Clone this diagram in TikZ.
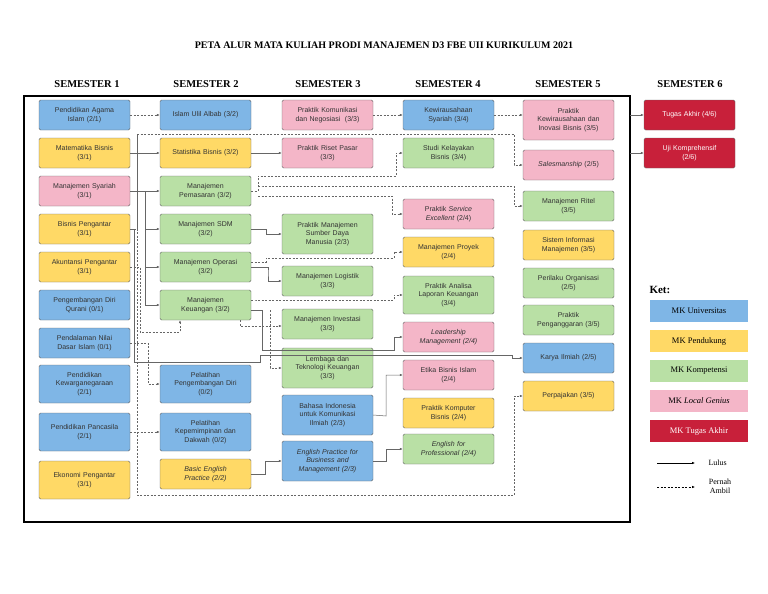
\documentclass[tikz,border=0pt]{standalone}
\usepackage{fontspec}
\setmainfont{Liberation Serif}
\newfontfamily\boxfont{Liberation Sans}
\usetikzlibrary{arrows.meta}
\definecolor{cb}{HTML}{7FB6E6}
\definecolor{cy}{HTML}{FFD966}
\definecolor{cg}{HTML}{B9E0A5}
\definecolor{cp}{HTML}{F4B6C8}
\definecolor{cr}{HTML}{C8203A}
\definecolor{ln}{HTML}{666666}
\tikzset{
 bx/.style={draw=ln,rounded corners=1.5pt,minimum width=91pt,text width=89pt,align=center,inner sep=1pt,font=\boxfont\fontsize{7}{8.6}\selectfont,text=black!80},
 sl/.style={draw=ln,line width=0.5pt,-{Latex[length=3pt,width=2.5pt]}},
 dsh/.style={sl,dashed,dash pattern=on 2pt off 1.5pt},
 dl/.style={draw=ln,line width=0.5pt,dashed,dash pattern=on 2pt off 1.5pt},
 hd/.style={font=\bfseries\fontsize{10.5}{12}\selectfont},
 lg/.style={minimum width=98pt,minimum height=22pt,inner sep=0pt,font=\fontsize{8.5}{10}\selectfont}
}
\begin{document}
\begin{tikzpicture}[x=1pt,y=-1pt]
\useasboundingbox (0,0) rectangle (768,594);
\node[font=\bfseries\fontsize{10}{12}\selectfont] (title) at (384,45) {PETA ALUR MATA KULIAH PRODI MANAJEMEN D3 FBE UII KURIKULUM 2021};
\node[hd] (h1) at (87,84) {SEMESTER 1};
\node[hd] (h2) at (206,84) {SEMESTER 2};
\node[hd] (h3) at (328,84) {SEMESTER 3};
\node[hd] (h4) at (448,84) {SEMESTER 4};
\node[hd] (h5) at (568,84) {SEMESTER 5};
\node[hd] (h6) at (690,84) {SEMESTER 6};
\draw[line width=1.4pt] (24,96) rectangle (630,522);
% column 1
\node[bx,fill=cb,minimum height=30pt] (a1) at (84.5,115) {Pendidikan Agama\\Islam (2/1)};
\node[bx,fill=cy,minimum height=30pt] (a2) at (84.5,153) {Matematika Bisnis\\(3/1)};
\node[bx,fill=cp,minimum height=30pt] (a3) at (84.5,191) {Manajemen Syariah\\(3/1)};
\node[bx,fill=cy,minimum height=30pt] (a4) at (84.5,229) {Bisnis Pengantar\\(3/1)};
\node[bx,fill=cy,minimum height=30pt] (a5) at (84.5,267) {Akuntansi Pengantar\\(3/1)};
\node[bx,fill=cb,minimum height=30pt] (a6) at (84.5,305) {Pengembangan Diri\\Qurani (0/1)};
\node[bx,fill=cb,minimum height=30pt] (a7) at (84.5,343) {Pendalaman Nilai\\Dasar Islam (0/1)};
\node[bx,fill=cb,minimum height=38pt] (a8) at (84.5,384) {Pendidikan\\Kewarganegaraan\\(2/1)};
\node[bx,fill=cb,minimum height=38pt] (a9) at (84.5,432) {Pendidikan Pancasila\\(2/1)};
\node[bx,fill=cy,minimum height=38pt] (a10) at (84.5,480) {Ekonomi Pengantar\\(3/1)};
% column 2
\node[bx,fill=cb,minimum height=30pt] (b1) at (205.5,115) {Islam Ulil Albab (3/2)};
\node[bx,fill=cy,minimum height=30pt] (b2) at (205.5,153) {Statistika Bisnis (3/2)};
\node[bx,fill=cg,minimum height=30pt] (b3) at (205.5,191) {Manajemen\\Pemasaran (3/2)};
\node[bx,fill=cg,minimum height=30pt] (b4) at (205.5,229) {Manajemen SDM\\(3/2)};
\node[bx,fill=cg,minimum height=30pt] (b5) at (205.5,267) {Manajemen Operasi\\(3/2)};
\node[bx,fill=cg,minimum height=30pt] (b6) at (205.5,305) {Manajemen\\Keuangan (3/2)};
\node[bx,fill=cb,minimum height=38pt] (b7) at (205.5,384) {Pelatihan\\Pengembangan Diri\\(0/2)};
\node[bx,fill=cb,minimum height=38pt] (b8) at (205.5,432) {Pelatihan\\Kepemimpinan dan\\Dakwah (0/2)};
\node[bx,fill=cy,minimum height=30pt] (b9) at (205.5,474) {\itshape Basic English\\Practice (2/2)};
% column 3
\node[bx,fill=cp,minimum height=30pt] (c1) at (327.5,115) {Praktik Komunikasi\\dan Negosiasi\ \ (3/3)};
\node[bx,fill=cp,minimum height=30pt] (c2) at (327.5,153) {Praktik Riset Pasar\\(3/3)};
\node[bx,fill=cg,minimum height=40pt] (c3) at (327.5,234) {Praktik Manajemen\\Sumber Daya\\Manusia (2/3)};
\node[bx,fill=cg,minimum height=30pt] (c4) at (327.5,281) {Manajemen Logistik\\(3/3)};
\node[bx,fill=cg,minimum height=30pt] (c5) at (327.5,324) {Manajemen Investasi\\(3/3)};
\node[bx,fill=cg,minimum height=40pt] (c6) at (327.5,368) {Lembaga dan\\Teknologi Keuangan\\(3/3)};
\node[bx,fill=cb,minimum height=40pt] (c7) at (327.5,415) {Bahasa Indonesia\\untuk Komunikasi\\Ilmiah (2/3)};
\node[bx,fill=cb,minimum height=40pt] (c8) at (327.5,461) {\itshape English Practice for\\Business and\\Management (2/3)};
% column 4
\node[bx,fill=cb,minimum height=30pt] (d1) at (448.5,115) {Kewirausahaan\\Syariah (3/4)};
\node[bx,fill=cg,minimum height=30pt] (d2) at (448.5,153) {Studi Kelayakan\\Bisnis (3/4)};
\node[bx,fill=cp,minimum height=30pt] (d3) at (448.5,214) {Praktik \textit{Service}\\\textit{Excellent} (2/4)};
\node[bx,fill=cy,minimum height=30pt] (d4) at (448.5,252) {Manajemen Proyek\\(2/4)};
\node[bx,fill=cg,minimum height=38pt] (d5) at (448.5,295) {Praktik Analisa\\Laporan Keuangan\\(3/4)};
\node[bx,fill=cp,minimum height=30pt] (d6) at (448.5,337) {\itshape Leadership\\Management (2/4)};
\node[bx,fill=cp,minimum height=30pt] (d7) at (448.5,375) {Etika Bisnis Islam\\(2/4)};
\node[bx,fill=cy,minimum height=30pt] (d8) at (448.5,413) {Praktik Komputer\\Bisnis (2/4)};
\node[bx,fill=cg,minimum height=30pt] (d9) at (448.5,449) {\itshape English for\\Professional (2/4)};
% column 5
\node[bx,fill=cp,minimum height=40pt] (e1) at (568.5,120) {Praktik\\Kewirausahaan dan\\Inovasi Bisnis (3/5)};
\node[bx,fill=cp,minimum height=30pt] (e2) at (568.5,165) {\textit{Salesmanship} (2/5)};
\node[bx,fill=cg,minimum height=30pt] (e3) at (568.5,206) {Manajemen Ritel\\(3/5)};
\node[bx,fill=cy,minimum height=30pt] (e4) at (568.5,245) {Sistem Informasi\\Manajemen (3/5)};
\node[bx,fill=cg,minimum height=30pt] (e5) at (568.5,283) {Perilaku Organisasi\\(2/5)};
\node[bx,fill=cg,minimum height=30pt] (e6) at (568.5,320) {Praktik\\Penganggaran (3/5)};
\node[bx,fill=cb,minimum height=30pt] (e7) at (568.5,358) {Karya Ilmiah (2/5)};
\node[bx,fill=cy,minimum height=30pt] (e8) at (568.5,396) {Perpajakan (3/5)};
% column 6
\node[bx,fill=cr,text=white,minimum height=30pt] (f1) at (689.5,115) {Tugas Akhir (4/6)};
\node[bx,fill=cr,text=white,minimum height=30pt] (f2) at (689.5,153) {Uji Komprehensif\\(2/6)};
% legend
\node[font=\bfseries\fontsize{11}{12}\selectfont,anchor=west] (ket) at (646,290) {Ket:};
\node[lg,fill=cb] (l1) at (699,311) {MK Universitas};
\node[lg,fill=cy] (l2) at (699,341) {MK Pendukung};
\node[lg,fill=cg] (l3) at (699,371) {MK Kompetensi};
\node[lg,fill=cp] (l4) at (699,401) {MK \textit{Local Genius}};
\node[lg,fill=cr,text=white] (l5) at (699,431) {MK Tugas Akhir};
\coordinate (lsa) at (657,463); \coordinate (lsb) at (695,463);
\coordinate (lda) at (657,487); \coordinate (ldb) at (695,487);
\draw[sl,draw=black] (lsa) -- (lsb);
\draw[dsh,draw=black] (lda) -- (ldb);
\node[font=\fontsize{8}{9}\selectfont,anchor=west] (lulus) at (705,463) {Lulus};
\node[font=\fontsize{8}{9}\selectfont,align=center] (pa) at (720,486) {Pernah\\Ambil};
% coordinates for routing
\coordinate (bus) at (145,191);
\coordinate (q1) at (137,229); \coordinate (q2) at (137,134); \coordinate (q3) at (514,134);
\coordinate (q4) at (137,495); \coordinate (q5) at (514,495);
\coordinate (m1) at (258,191); \coordinate (m2) at (258,176); \coordinate (m3) at (396,176);
\coordinate (m4) at (262,186); \coordinate (m5) at (514,186);
\coordinate (m6) at (264,196); \coordinate (m7) at (392,196);
\coordinate (o1) at (266,262); \coordinate (o2) at (266,258); \coordinate (o3) at (394,258);
\coordinate (s1) at (266,229); \coordinate (s2) at (268,272);
\coordinate (k1) at (256,300); \coordinate (k2) at (394,300);
\coordinate (k3) at (240,326); \coordinate (k4) at (262,310); \coordinate (k5) at (262,350); \coordinate (k6) at (394,350);
\coordinate (k7) at (270,310);
\coordinate (n1) at (140,267); \coordinate (n2) at (140,332); \coordinate (n3) at (180,332);
\coordinate (p1) at (148,343);
\coordinate (r0) at (134,229); \coordinate (r1) at (134,362); \coordinate (r2) at (260,362); \coordinate (r3) at (260,355); \coordinate (r4) at (512,355);
\coordinate (t1) at (386,416); \coordinate (t2) at (265,474); \coordinate (t3) at (386,461);
\coordinate (u1) at (630,115); \coordinate (u2) at (630,153);
% solid connectors
\draw[sl] (a2) -- (b2);
\draw[sl] (b2) -- (c2);
\draw[draw=ln,line width=0.5pt] (a3.east) -- (bus);
\draw[sl] (bus) |- (b3.west);
\draw[sl] (bus) |- (b4.west);
\draw[sl] (bus) |- (b5.west);
\draw[sl] (bus) |- (b6.west);
\draw[sl] (b4.east) -- (s1) |- (c3.west);
\draw[sl] (b5.east) -| (s2) |- (c4.west);
\draw[sl] (b6.east |- k4) -- (k4) -- (k5) -- (k6) |- (d6.west);
\draw[sl] (a4.east) -- (r0) -- (r1) -- (r2) -- (r3) -- (r4) |- (e7.west);
\draw[sl] (c7.east) -- (t1) |- (d7.west);
\draw[sl] (b9.east) -| (t2) |- (c8.west);
\draw[sl] (c8.east) -- (t3) |- (d9.west);
\draw[sl] (u1) -- (f1.west);
\draw[sl] (u2) -- (f2.west);
% dashed connectors
\draw[dsh] (a1) -- (b1);
\draw[dsh] (c1) -- (d1);
\draw[dsh] (d1.east) -- (e1.west |- d1.east);
\draw[dl] (a4.east) -- (q1) -- (q2);
\draw[dsh] (q2) -- (q3) |- (e2.west);
\draw[dsh] (q2) -- (q4) -- (q5) |- (e8.west);
\draw[dsh] (b3.east) -- (m1) -- (m2) -- (m3) |- (d2.west);
\draw[dsh] (m1 |- m4) -- (m4) -- (m5) |- (e3.west);
\draw[dsh] (m1 |- m6) -- (m6) -- (m7) |- (d3.west);
\draw[dsh] (b5.east |- o1) -- (o1) -- (o2) -- (o3) |- (d4.west);
\draw[dsh] (b6.east |- k1) -- (k1) -- (k1 |- k2) -- (k2) |- (d5.west);
\draw[dsh] (b6.south east -| k3) -- (k3) -- (c5.west |- k3);
\draw[dsh] (k7) |- (c6.west);
\draw[dsh] (a5.east) -- (n1) -- (n2) -- (n3) -- (b6.south west -| n3);
\draw[dsh] (a7.east) -- (p1) |- (b7.west);
\draw[dsh] (a9) -- (b8);
\end{tikzpicture}
\end{document}
